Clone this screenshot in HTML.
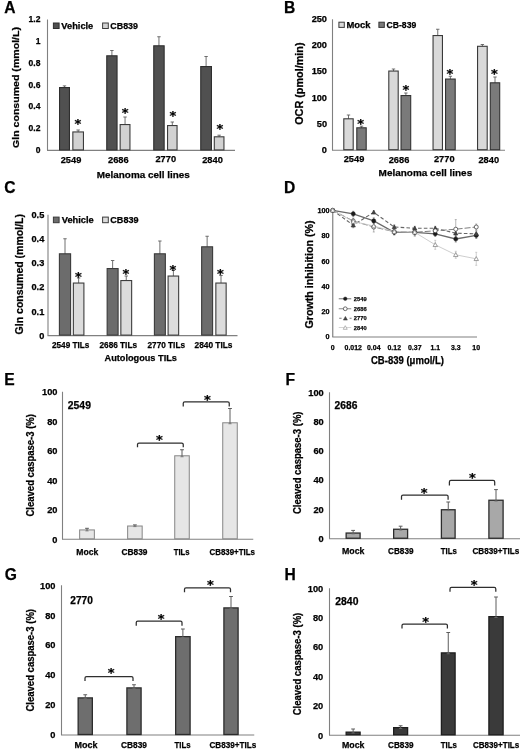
<!DOCTYPE html>
<html lang="en"><head><meta charset="utf-8"><title>Figure</title>
<style>
html,body{margin:0;padding:0;background:#fff;}
body{width:520px;height:752px;overflow:hidden;}
svg{display:block;font-family:"Liberation Sans", Arial, sans-serif;}
text{stroke:#000;stroke-width:0.25px;}
</style></head>
<body>
<svg width="520" height="752" viewBox="0 0 520 752">
<rect x="0" y="0" width="520" height="752" fill="#ffffff"/>
<text x="4.2" y="13.1" font-size="15.6" font-weight="bold" text-anchor="start" fill="#000">A</text>
<text x="283.9" y="13.1" font-size="15.6" font-weight="bold" text-anchor="start" fill="#000">B</text>
<text x="4.3" y="193.4" font-size="15.6" font-weight="bold" text-anchor="start" fill="#000">C</text>
<text x="283.9" y="193.4" font-size="15.6" font-weight="bold" text-anchor="start" fill="#000">D</text>
<text x="4.3" y="384.8" font-size="15.6" font-weight="bold" text-anchor="start" fill="#000">E</text>
<text x="285.5" y="384.8" font-size="15.6" font-weight="bold" text-anchor="start" fill="#000">F</text>
<text x="4.7" y="580.4" font-size="15.6" font-weight="bold" text-anchor="start" fill="#000">G</text>
<text x="284.6" y="579.6" font-size="15.6" font-weight="bold" text-anchor="start" fill="#000">H</text>
<line x1="47.5" y1="19.5" x2="47.5" y2="150.4" stroke="#808080" stroke-width="1.1"/>
<line x1="47.0" y1="150.4" x2="235" y2="150.4" stroke="#808080" stroke-width="1.1"/>
<text x="28.53" y="22.17" font-size="8.8" font-weight="bold" text-anchor="start" fill="#000" textLength="11.87" lengthAdjust="spacingAndGlyphs">1.2</text>
<text x="35.65" y="43.98" font-size="8.8" font-weight="bold" text-anchor="start" fill="#000" textLength="4.75" lengthAdjust="spacingAndGlyphs">1</text>
<text x="28.53" y="65.8" font-size="8.8" font-weight="bold" text-anchor="start" fill="#000" textLength="11.87" lengthAdjust="spacingAndGlyphs">0.8</text>
<text x="28.53" y="87.62" font-size="8.8" font-weight="bold" text-anchor="start" fill="#000" textLength="11.87" lengthAdjust="spacingAndGlyphs">0.6</text>
<text x="28.53" y="109.43" font-size="8.8" font-weight="bold" text-anchor="start" fill="#000" textLength="11.87" lengthAdjust="spacingAndGlyphs">0.4</text>
<text x="28.53" y="131.25" font-size="8.8" font-weight="bold" text-anchor="start" fill="#000" textLength="11.87" lengthAdjust="spacingAndGlyphs">0.2</text>
<text x="35.65" y="153.07" font-size="8.8" font-weight="bold" text-anchor="start" fill="#000" textLength="4.75" lengthAdjust="spacingAndGlyphs">0</text>
<text x="19.3" y="148" font-size="9.7" font-weight="bold" text-anchor="start" fill="#000" textLength="121" lengthAdjust="spacingAndGlyphs" transform="rotate(-90 19.3 148)">Gln consumed (mmol/L)</text>
<line x1="64.5" y1="85.9" x2="64.5" y2="88" stroke="#606060" stroke-width="0.9"/>
<line x1="62.8" y1="85.9" x2="66.2" y2="85.9" stroke="#606060" stroke-width="0.9"/>
<line x1="78.15" y1="130" x2="78.15" y2="132.4" stroke="#606060" stroke-width="0.9"/>
<line x1="76.45" y1="130" x2="79.85000000000001" y2="130" stroke="#606060" stroke-width="0.9"/>
<rect x="59.55" y="87.55" width="9.9" height="62.35" fill="#505050" stroke="#2e2e2e" stroke-width="1.1"/>
<rect x="72.85" y="131.95000000000002" width="10.6" height="17.95" fill="#d2d2d2" stroke="#3c3c3c" stroke-width="1.1"/>
<line x1="111.9" y1="50.5" x2="111.9" y2="56.25" stroke="#606060" stroke-width="0.9"/>
<line x1="110.2" y1="50.5" x2="113.60000000000001" y2="50.5" stroke="#606060" stroke-width="0.9"/>
<line x1="125.05" y1="117" x2="125.05" y2="125" stroke="#606060" stroke-width="0.9"/>
<line x1="123.35" y1="117" x2="126.75" y2="117" stroke="#606060" stroke-width="0.9"/>
<rect x="106.75" y="55.8" width="10.3" height="94.1" fill="#505050" stroke="#2e2e2e" stroke-width="1.1"/>
<rect x="120.14999999999999" y="124.55" width="9.8" height="25.35" fill="#d2d2d2" stroke="#3c3c3c" stroke-width="1.1"/>
<line x1="158.95" y1="36.75" x2="158.95" y2="46.25" stroke="#606060" stroke-width="0.9"/>
<line x1="157.25" y1="36.75" x2="160.64999999999998" y2="36.75" stroke="#606060" stroke-width="0.9"/>
<line x1="172.3" y1="122" x2="172.3" y2="126" stroke="#606060" stroke-width="0.9"/>
<line x1="170.60000000000002" y1="122" x2="174.0" y2="122" stroke="#606060" stroke-width="0.9"/>
<rect x="153.75" y="45.8" width="10.4" height="104.1" fill="#505050" stroke="#2e2e2e" stroke-width="1.1"/>
<rect x="167.55" y="125.55" width="9.5" height="24.35" fill="#d2d2d2" stroke="#3c3c3c" stroke-width="1.1"/>
<line x1="206.1" y1="56.5" x2="206.1" y2="67" stroke="#606060" stroke-width="0.9"/>
<line x1="204.4" y1="56.5" x2="207.79999999999998" y2="56.5" stroke="#606060" stroke-width="0.9"/>
<line x1="219.125" y1="135.2" x2="219.125" y2="137.25" stroke="#606060" stroke-width="0.9"/>
<line x1="217.425" y1="135.2" x2="220.825" y2="135.2" stroke="#606060" stroke-width="0.9"/>
<rect x="200.75" y="66.55" width="10.7" height="83.35" fill="#505050" stroke="#2e2e2e" stroke-width="1.1"/>
<rect x="214.3" y="136.8" width="9.65" height="13.1" fill="#d2d2d2" stroke="#3c3c3c" stroke-width="1.1"/>
<text x="78" y="128.28" font-size="13" font-weight="bold" text-anchor="middle" fill="#000" font-family="DejaVu Sans, Liberation Sans, sans-serif" stroke="#000" stroke-width="0.3">*</text>
<text x="125.2" y="116.78" font-size="13" font-weight="bold" text-anchor="middle" fill="#000" font-family="DejaVu Sans, Liberation Sans, sans-serif" stroke="#000" stroke-width="0.3">*</text>
<text x="172.8" y="119.78" font-size="13" font-weight="bold" text-anchor="middle" fill="#000" font-family="DejaVu Sans, Liberation Sans, sans-serif" stroke="#000" stroke-width="0.3">*</text>
<text x="219.8" y="133.48" font-size="13" font-weight="bold" text-anchor="middle" fill="#000" font-family="DejaVu Sans, Liberation Sans, sans-serif" stroke="#000" stroke-width="0.3">*</text>
<text x="60.7" y="162.5" font-size="9.8" font-weight="bold" text-anchor="start" fill="#000" textLength="20.6" lengthAdjust="spacingAndGlyphs">2549</text>
<text x="108.0" y="163.0" font-size="9.8" font-weight="bold" text-anchor="start" fill="#000" textLength="20.6" lengthAdjust="spacingAndGlyphs">2686</text>
<text x="155.45" y="162.0" font-size="9.8" font-weight="bold" text-anchor="start" fill="#000" textLength="20.6" lengthAdjust="spacingAndGlyphs">2770</text>
<text x="202.2" y="163.2" font-size="9.8" font-weight="bold" text-anchor="start" fill="#000" textLength="20.6" lengthAdjust="spacingAndGlyphs">2840</text>
<text x="96.8" y="177.8" font-size="9.6" font-weight="bold" text-anchor="start" fill="#000" textLength="93.0" lengthAdjust="spacingAndGlyphs">Melanoma cell lines</text>
<rect x="53.4" y="23" width="5.7" height="5.5" fill="#505050" stroke="#2e2e2e" stroke-width="1.0"/>
<text x="61.3" y="28.6" font-size="9" font-weight="bold" text-anchor="start" fill="#000" textLength="32.0" lengthAdjust="spacingAndGlyphs">Vehicle</text>
<rect x="102.6" y="23" width="5.7" height="5.5" fill="#d2d2d2" stroke="#3c3c3c" stroke-width="1.0"/>
<text x="110.3" y="28.6" font-size="9" font-weight="bold" text-anchor="start" fill="#000" textLength="27.7" lengthAdjust="spacingAndGlyphs">CB839</text>
<line x1="48" y1="214.75" x2="48" y2="335.6" stroke="#808080" stroke-width="1.1"/>
<line x1="47.5" y1="335.6" x2="237.5" y2="335.6" stroke="#808080" stroke-width="1.1"/>
<text x="31.51" y="217.85" font-size="8.6" font-weight="bold" text-anchor="start" fill="#000" textLength="12.79" lengthAdjust="spacingAndGlyphs">0.5</text>
<text x="31.51" y="242.02" font-size="8.6" font-weight="bold" text-anchor="start" fill="#000" textLength="12.79" lengthAdjust="spacingAndGlyphs">0.4</text>
<text x="31.51" y="266.19" font-size="8.6" font-weight="bold" text-anchor="start" fill="#000" textLength="12.79" lengthAdjust="spacingAndGlyphs">0.3</text>
<text x="31.51" y="290.36" font-size="8.6" font-weight="bold" text-anchor="start" fill="#000" textLength="12.79" lengthAdjust="spacingAndGlyphs">0.2</text>
<text x="31.51" y="314.53" font-size="8.6" font-weight="bold" text-anchor="start" fill="#000" textLength="12.79" lengthAdjust="spacingAndGlyphs">0.1</text>
<text x="39.18" y="338.7" font-size="8.6" font-weight="bold" text-anchor="start" fill="#000" textLength="5.12" lengthAdjust="spacingAndGlyphs">0</text>
<text x="22.6" y="334.4" font-size="10.4" font-weight="bold" text-anchor="start" fill="#000" textLength="120.4" lengthAdjust="spacingAndGlyphs" transform="rotate(-90 22.6 334.4)">Gln consumed (mmol/L)</text>
<line x1="65.0" y1="238.75" x2="65.0" y2="254.25" stroke="#606060" stroke-width="0.9"/>
<line x1="63.3" y1="238.75" x2="66.7" y2="238.75" stroke="#606060" stroke-width="0.9"/>
<line x1="78.625" y1="278" x2="78.625" y2="283.5" stroke="#606060" stroke-width="0.9"/>
<line x1="76.925" y1="278" x2="80.325" y2="278" stroke="#606060" stroke-width="0.9"/>
<rect x="59.4" y="253.8" width="11.2" height="81.3" fill="#6c6c6c" stroke="#3a3a3a" stroke-width="1.1"/>
<rect x="73.35" y="283.05" width="10.55" height="52.05" fill="#dcdcdc" stroke="#3c3c3c" stroke-width="1.1"/>
<line x1="112.625" y1="260.5" x2="112.625" y2="269" stroke="#606060" stroke-width="0.9"/>
<line x1="110.925" y1="260.5" x2="114.325" y2="260.5" stroke="#606060" stroke-width="0.9"/>
<line x1="126.25" y1="276" x2="126.25" y2="281" stroke="#606060" stroke-width="0.9"/>
<line x1="124.55" y1="276" x2="127.95" y2="276" stroke="#606060" stroke-width="0.9"/>
<rect x="107.14999999999999" y="268.55" width="10.95" height="66.55" fill="#6c6c6c" stroke="#3a3a3a" stroke-width="1.1"/>
<rect x="120.85" y="280.55" width="10.8" height="54.55" fill="#dcdcdc" stroke="#3c3c3c" stroke-width="1.1"/>
<line x1="159.875" y1="241" x2="159.875" y2="254.25" stroke="#606060" stroke-width="0.9"/>
<line x1="158.175" y1="241" x2="161.575" y2="241" stroke="#606060" stroke-width="0.9"/>
<line x1="173.375" y1="270.5" x2="173.375" y2="276.5" stroke="#606060" stroke-width="0.9"/>
<line x1="171.675" y1="270.5" x2="175.075" y2="270.5" stroke="#606060" stroke-width="0.9"/>
<rect x="154.4" y="253.8" width="10.95" height="81.3" fill="#6c6c6c" stroke="#3a3a3a" stroke-width="1.1"/>
<rect x="168.10000000000002" y="276.05" width="10.55" height="59.05" fill="#dcdcdc" stroke="#3c3c3c" stroke-width="1.1"/>
<line x1="207.125" y1="236.25" x2="207.125" y2="247.25" stroke="#606060" stroke-width="0.9"/>
<line x1="205.425" y1="236.25" x2="208.825" y2="236.25" stroke="#606060" stroke-width="0.9"/>
<line x1="221.0" y1="275.5" x2="221.0" y2="283.5" stroke="#606060" stroke-width="0.9"/>
<line x1="219.3" y1="275.5" x2="222.7" y2="275.5" stroke="#606060" stroke-width="0.9"/>
<rect x="201.65" y="246.8" width="10.95" height="88.3" fill="#6c6c6c" stroke="#3a3a3a" stroke-width="1.1"/>
<rect x="215.85000000000002" y="283.05" width="10.3" height="52.05" fill="#dcdcdc" stroke="#3c3c3c" stroke-width="1.1"/>
<text x="78.5" y="280.98" font-size="13" font-weight="bold" text-anchor="middle" fill="#000" font-family="DejaVu Sans, Liberation Sans, sans-serif" stroke="#000" stroke-width="0.3">*</text>
<text x="126" y="278.48" font-size="13" font-weight="bold" text-anchor="middle" fill="#000" font-family="DejaVu Sans, Liberation Sans, sans-serif" stroke="#000" stroke-width="0.3">*</text>
<text x="173" y="273.98" font-size="13" font-weight="bold" text-anchor="middle" fill="#000" font-family="DejaVu Sans, Liberation Sans, sans-serif" stroke="#000" stroke-width="0.3">*</text>
<text x="220.5" y="278.48" font-size="13" font-weight="bold" text-anchor="middle" fill="#000" font-family="DejaVu Sans, Liberation Sans, sans-serif" stroke="#000" stroke-width="0.3">*</text>
<text x="52" y="348.4" font-size="9.2" font-weight="bold" text-anchor="start" fill="#000" textLength="37.25" lengthAdjust="spacingAndGlyphs">2549 TILs</text>
<text x="99.5" y="348.4" font-size="9.2" font-weight="bold" text-anchor="start" fill="#000" textLength="37.5" lengthAdjust="spacingAndGlyphs">2686 TILs</text>
<text x="147.5" y="348.4" font-size="9.2" font-weight="bold" text-anchor="start" fill="#000" textLength="37.5" lengthAdjust="spacingAndGlyphs">2770 TILs</text>
<text x="194.5" y="348.4" font-size="9.2" font-weight="bold" text-anchor="start" fill="#000" textLength="38.0" lengthAdjust="spacingAndGlyphs">2840 TILs</text>
<text x="104.5" y="361.4" font-size="9.5" font-weight="bold" text-anchor="start" fill="#000" textLength="72.4" lengthAdjust="spacingAndGlyphs">Autologous TILs</text>
<rect x="53.4" y="217.1" width="5.7" height="5.6" fill="#6c6c6c" stroke="#3a3a3a" stroke-width="1.0"/>
<text x="61.7" y="222.7" font-size="9" font-weight="bold" text-anchor="start" fill="#000" textLength="32.1" lengthAdjust="spacingAndGlyphs">Vehicle</text>
<rect x="102.6" y="217.1" width="5.7" height="5.6" fill="#dcdcdc" stroke="#3c3c3c" stroke-width="1.0"/>
<text x="110.3" y="222.7" font-size="9" font-weight="bold" text-anchor="start" fill="#000" textLength="28.2" lengthAdjust="spacingAndGlyphs">CB839</text>
<line x1="332.5" y1="19.3" x2="332.5" y2="150.2" stroke="#808080" stroke-width="1.1"/>
<line x1="332.0" y1="150.2" x2="505" y2="150.2" stroke="#808080" stroke-width="1.1"/>
<text x="311.65" y="22.1" font-size="8.6" font-weight="bold" text-anchor="start" fill="#000" textLength="15.35" lengthAdjust="spacingAndGlyphs">250</text>
<text x="311.65" y="48.28" font-size="8.6" font-weight="bold" text-anchor="start" fill="#000" textLength="15.35" lengthAdjust="spacingAndGlyphs">200</text>
<text x="311.65" y="74.46" font-size="8.6" font-weight="bold" text-anchor="start" fill="#000" textLength="15.35" lengthAdjust="spacingAndGlyphs">150</text>
<text x="311.65" y="100.64" font-size="8.6" font-weight="bold" text-anchor="start" fill="#000" textLength="15.35" lengthAdjust="spacingAndGlyphs">100</text>
<text x="316.77" y="126.82" font-size="8.6" font-weight="bold" text-anchor="start" fill="#000" textLength="10.23" lengthAdjust="spacingAndGlyphs">50</text>
<text x="321.88" y="153.0" font-size="8.6" font-weight="bold" text-anchor="start" fill="#000" textLength="5.12" lengthAdjust="spacingAndGlyphs">0</text>
<text x="303.2" y="124.8" font-size="10.6" font-weight="bold" text-anchor="start" fill="#000" textLength="82.3" lengthAdjust="spacingAndGlyphs" transform="rotate(-90 303.2 124.8)">OCR (pmol/min)</text>
<line x1="348.5" y1="115" x2="348.5" y2="119.25" stroke="#606060" stroke-width="0.9"/>
<line x1="346.8" y1="115" x2="350.2" y2="115" stroke="#606060" stroke-width="0.9"/>
<line x1="361.5" y1="126.2" x2="361.5" y2="128.25" stroke="#606060" stroke-width="0.9"/>
<line x1="359.8" y1="126.2" x2="363.2" y2="126.2" stroke="#606060" stroke-width="0.9"/>
<rect x="343.8" y="118.8" width="9.4" height="30.9" fill="#d9d9d9" stroke="#3a3a3a" stroke-width="1.1"/>
<rect x="356.8" y="127.8" width="9.4" height="21.9" fill="#7a7a7a" stroke="#333" stroke-width="1.1"/>
<line x1="393.5" y1="69" x2="393.5" y2="71.5" stroke="#606060" stroke-width="0.9"/>
<line x1="391.8" y1="69" x2="395.2" y2="69" stroke="#606060" stroke-width="0.9"/>
<line x1="405.875" y1="93" x2="405.875" y2="96" stroke="#606060" stroke-width="0.9"/>
<line x1="404.175" y1="93" x2="407.575" y2="93" stroke="#606060" stroke-width="0.9"/>
<rect x="388.8" y="71.05" width="9.4" height="78.65" fill="#d9d9d9" stroke="#3a3a3a" stroke-width="1.1"/>
<rect x="401.05" y="95.55" width="9.65" height="54.15" fill="#7a7a7a" stroke="#333" stroke-width="1.1"/>
<line x1="437.75" y1="29.25" x2="437.75" y2="36" stroke="#606060" stroke-width="0.9"/>
<line x1="436.05" y1="29.25" x2="439.45" y2="29.25" stroke="#606060" stroke-width="0.9"/>
<line x1="450.375" y1="76.25" x2="450.375" y2="79.5" stroke="#606060" stroke-width="0.9"/>
<line x1="448.675" y1="76.25" x2="452.075" y2="76.25" stroke="#606060" stroke-width="0.9"/>
<rect x="433.05" y="35.55" width="9.4" height="114.15" fill="#d9d9d9" stroke="#3a3a3a" stroke-width="1.1"/>
<rect x="445.55" y="79.05" width="9.65" height="70.65" fill="#7a7a7a" stroke="#333" stroke-width="1.1"/>
<line x1="482.375" y1="44.5" x2="482.375" y2="46.75" stroke="#606060" stroke-width="0.9"/>
<line x1="480.675" y1="44.5" x2="484.075" y2="44.5" stroke="#606060" stroke-width="0.9"/>
<line x1="495.0" y1="77" x2="495.0" y2="83.25" stroke="#606060" stroke-width="0.9"/>
<line x1="493.3" y1="77" x2="496.7" y2="77" stroke="#606060" stroke-width="0.9"/>
<rect x="477.55" y="46.3" width="9.65" height="103.4" fill="#d9d9d9" stroke="#3a3a3a" stroke-width="1.1"/>
<rect x="490.3" y="82.8" width="9.4" height="66.9" fill="#7a7a7a" stroke="#333" stroke-width="1.1"/>
<text x="360.6" y="127.98" font-size="13" font-weight="bold" text-anchor="middle" fill="#000" font-family="DejaVu Sans, Liberation Sans, sans-serif" stroke="#000" stroke-width="0.3">*</text>
<text x="405.8" y="93.98" font-size="13" font-weight="bold" text-anchor="middle" fill="#000" font-family="DejaVu Sans, Liberation Sans, sans-serif" stroke="#000" stroke-width="0.3">*</text>
<text x="450" y="77.98" font-size="13" font-weight="bold" text-anchor="middle" fill="#000" font-family="DejaVu Sans, Liberation Sans, sans-serif" stroke="#000" stroke-width="0.3">*</text>
<text x="494.5" y="78.48" font-size="13" font-weight="bold" text-anchor="middle" fill="#000" font-family="DejaVu Sans, Liberation Sans, sans-serif" stroke="#000" stroke-width="0.3">*</text>
<text x="343.7" y="162.0" font-size="9.8" font-weight="bold" text-anchor="start" fill="#000" textLength="20.6" lengthAdjust="spacingAndGlyphs">2549</text>
<text x="388.7" y="162.7" font-size="9.8" font-weight="bold" text-anchor="start" fill="#000" textLength="20.6" lengthAdjust="spacingAndGlyphs">2686</text>
<text x="433.95" y="161.79999999999998" font-size="9.8" font-weight="bold" text-anchor="start" fill="#000" textLength="20.6" lengthAdjust="spacingAndGlyphs">2770</text>
<text x="478.45" y="162.7" font-size="9.8" font-weight="bold" text-anchor="start" fill="#000" textLength="20.6" lengthAdjust="spacingAndGlyphs">2840</text>
<text x="378.6" y="176.1" font-size="9.6" font-weight="bold" text-anchor="start" fill="#000" textLength="93.6" lengthAdjust="spacingAndGlyphs">Melanoma cell lines</text>
<rect x="338.9" y="22.2" width="5.4" height="5.2" fill="#d9d9d9" stroke="#3a3a3a" stroke-width="1.0"/>
<text x="346.5" y="27.6" font-size="9" font-weight="bold" text-anchor="start" fill="#000" textLength="24.1" lengthAdjust="spacingAndGlyphs">Mock</text>
<rect x="378.9" y="22.2" width="5.4" height="5.2" fill="#7a7a7a" stroke="#333" stroke-width="1.0"/>
<text x="386.5" y="27.6" font-size="9" font-weight="bold" text-anchor="start" fill="#000" textLength="29.75" lengthAdjust="spacingAndGlyphs">CB-839</text>
<line x1="332.75" y1="209.5" x2="332.75" y2="337" stroke="#808080" stroke-width="1.2"/>
<line x1="332.25" y1="337" x2="477" y2="337" stroke="#808080" stroke-width="1.2"/>
<text x="317.52" y="212.98" font-size="6.9" font-weight="bold" text-anchor="start" fill="#000" textLength="12.08" lengthAdjust="spacingAndGlyphs">100</text>
<text x="321.54" y="238.28" font-size="6.9" font-weight="bold" text-anchor="start" fill="#000" textLength="8.06" lengthAdjust="spacingAndGlyphs">80</text>
<text x="321.54" y="263.58" font-size="6.9" font-weight="bold" text-anchor="start" fill="#000" textLength="8.06" lengthAdjust="spacingAndGlyphs">60</text>
<text x="321.54" y="288.88" font-size="6.9" font-weight="bold" text-anchor="start" fill="#000" textLength="8.06" lengthAdjust="spacingAndGlyphs">40</text>
<text x="321.54" y="314.18" font-size="6.9" font-weight="bold" text-anchor="start" fill="#000" textLength="8.06" lengthAdjust="spacingAndGlyphs">20</text>
<text x="325.57" y="339.48" font-size="6.9" font-weight="bold" text-anchor="start" fill="#000" textLength="4.03" lengthAdjust="spacingAndGlyphs">0</text>
<text x="312.8" y="328.6" font-size="10.8" font-weight="bold" text-anchor="start" fill="#000" textLength="108.2" lengthAdjust="spacingAndGlyphs" transform="rotate(-90 312.8 328.6)">Growth inhibition (%)</text>
<text x="330.8" y="349.8" font-size="6.9" font-weight="bold" text-anchor="start" fill="#000" textLength="3.9" lengthAdjust="spacingAndGlyphs">0</text>
<text x="344.55" y="349.8" font-size="6.9" font-weight="bold" text-anchor="start" fill="#000" textLength="17.4" lengthAdjust="spacingAndGlyphs">0.012</text>
<text x="367.0" y="349.8" font-size="6.9" font-weight="bold" text-anchor="start" fill="#000" textLength="13.5" lengthAdjust="spacingAndGlyphs">0.04</text>
<text x="387.5" y="349.8" font-size="6.9" font-weight="bold" text-anchor="start" fill="#000" textLength="13.5" lengthAdjust="spacingAndGlyphs">0.12</text>
<text x="408.0" y="349.8" font-size="6.9" font-weight="bold" text-anchor="start" fill="#000" textLength="13.5" lengthAdjust="spacingAndGlyphs">0.37</text>
<text x="430.45" y="349.8" font-size="6.9" font-weight="bold" text-anchor="start" fill="#000" textLength="9.6" lengthAdjust="spacingAndGlyphs">1.1</text>
<text x="450.95" y="349.8" font-size="6.9" font-weight="bold" text-anchor="start" fill="#000" textLength="9.6" lengthAdjust="spacingAndGlyphs">3.3</text>
<text x="472.35" y="349.8" font-size="6.9" font-weight="bold" text-anchor="start" fill="#000" textLength="7.8" lengthAdjust="spacingAndGlyphs">10</text>
<text x="371" y="364" font-size="10" font-weight="bold" text-anchor="start" fill="#000" textLength="73" lengthAdjust="spacingAndGlyphs">CB-839 (μmol/L)</text>
<line x1="353.25" y1="218.5" x2="353.25" y2="224.5" stroke="#b0b0b0" stroke-width="0.6"/>
<line x1="352.25" y1="218.5" x2="354.25" y2="218.5" stroke="#b0b0b0" stroke-width="0.6"/>
<line x1="352.25" y1="224.5" x2="354.25" y2="224.5" stroke="#b0b0b0" stroke-width="0.6"/>
<line x1="373.75" y1="223" x2="373.75" y2="229" stroke="#b0b0b0" stroke-width="0.6"/>
<line x1="372.75" y1="223" x2="374.75" y2="223" stroke="#b0b0b0" stroke-width="0.6"/>
<line x1="372.75" y1="229" x2="374.75" y2="229" stroke="#b0b0b0" stroke-width="0.6"/>
<line x1="394.25" y1="228.7" x2="394.25" y2="234.7" stroke="#b0b0b0" stroke-width="0.6"/>
<line x1="393.25" y1="228.7" x2="395.25" y2="228.7" stroke="#b0b0b0" stroke-width="0.6"/>
<line x1="393.25" y1="234.7" x2="395.25" y2="234.7" stroke="#b0b0b0" stroke-width="0.6"/>
<line x1="414.75" y1="228.3" x2="414.75" y2="236.3" stroke="#b0b0b0" stroke-width="0.6"/>
<line x1="413.75" y1="228.3" x2="415.75" y2="228.3" stroke="#b0b0b0" stroke-width="0.6"/>
<line x1="413.75" y1="236.3" x2="415.75" y2="236.3" stroke="#b0b0b0" stroke-width="0.6"/>
<line x1="435.25" y1="240.3" x2="435.25" y2="249.3" stroke="#b0b0b0" stroke-width="0.6"/>
<line x1="434.25" y1="240.3" x2="436.25" y2="240.3" stroke="#b0b0b0" stroke-width="0.6"/>
<line x1="434.25" y1="249.3" x2="436.25" y2="249.3" stroke="#b0b0b0" stroke-width="0.6"/>
<line x1="455.75" y1="251.3" x2="455.75" y2="258.3" stroke="#b0b0b0" stroke-width="0.6"/>
<line x1="454.75" y1="251.3" x2="456.75" y2="251.3" stroke="#b0b0b0" stroke-width="0.6"/>
<line x1="454.75" y1="258.3" x2="456.75" y2="258.3" stroke="#b0b0b0" stroke-width="0.6"/>
<line x1="476.25" y1="252.3" x2="476.25" y2="265.3" stroke="#b0b0b0" stroke-width="0.6"/>
<line x1="475.25" y1="252.3" x2="477.25" y2="252.3" stroke="#b0b0b0" stroke-width="0.6"/>
<line x1="475.25" y1="265.3" x2="477.25" y2="265.3" stroke="#b0b0b0" stroke-width="0.6"/>
<line x1="353.25" y1="218" x2="353.25" y2="224" stroke="#888" stroke-width="0.6"/>
<line x1="352.25" y1="218" x2="354.25" y2="218" stroke="#888" stroke-width="0.6"/>
<line x1="352.25" y1="224" x2="354.25" y2="224" stroke="#888" stroke-width="0.6"/>
<line x1="373.75" y1="222" x2="373.75" y2="232" stroke="#888" stroke-width="0.6"/>
<line x1="372.75" y1="222" x2="374.75" y2="222" stroke="#888" stroke-width="0.6"/>
<line x1="372.75" y1="232" x2="374.75" y2="232" stroke="#888" stroke-width="0.6"/>
<line x1="394.25" y1="228.7" x2="394.25" y2="234.7" stroke="#888" stroke-width="0.6"/>
<line x1="393.25" y1="228.7" x2="395.25" y2="228.7" stroke="#888" stroke-width="0.6"/>
<line x1="393.25" y1="234.7" x2="395.25" y2="234.7" stroke="#888" stroke-width="0.6"/>
<line x1="414.75" y1="228.8" x2="414.75" y2="235.8" stroke="#888" stroke-width="0.6"/>
<line x1="413.75" y1="228.8" x2="415.75" y2="228.8" stroke="#888" stroke-width="0.6"/>
<line x1="413.75" y1="235.8" x2="415.75" y2="235.8" stroke="#888" stroke-width="0.6"/>
<line x1="435.25" y1="227.8" x2="435.25" y2="233.8" stroke="#888" stroke-width="0.6"/>
<line x1="434.25" y1="227.8" x2="436.25" y2="227.8" stroke="#888" stroke-width="0.6"/>
<line x1="434.25" y1="233.8" x2="436.25" y2="233.8" stroke="#888" stroke-width="0.6"/>
<line x1="455.75" y1="219.6" x2="455.75" y2="238.79999999999998" stroke="#888" stroke-width="0.6"/>
<line x1="454.75" y1="219.6" x2="456.75" y2="219.6" stroke="#888" stroke-width="0.6"/>
<line x1="454.75" y1="238.79999999999998" x2="456.75" y2="238.79999999999998" stroke="#888" stroke-width="0.6"/>
<line x1="476.25" y1="224" x2="476.25" y2="230" stroke="#888" stroke-width="0.6"/>
<line x1="475.25" y1="224" x2="477.25" y2="224" stroke="#888" stroke-width="0.6"/>
<line x1="475.25" y1="230" x2="477.25" y2="230" stroke="#888" stroke-width="0.6"/>
<line x1="353.25" y1="222.7" x2="353.25" y2="227.7" stroke="#666" stroke-width="0.6"/>
<line x1="352.25" y1="222.7" x2="354.25" y2="222.7" stroke="#666" stroke-width="0.6"/>
<line x1="352.25" y1="227.7" x2="354.25" y2="227.7" stroke="#666" stroke-width="0.6"/>
<line x1="373.75" y1="210.8" x2="373.75" y2="213.8" stroke="#666" stroke-width="0.6"/>
<line x1="372.75" y1="210.8" x2="374.75" y2="210.8" stroke="#666" stroke-width="0.6"/>
<line x1="372.75" y1="213.8" x2="374.75" y2="213.8" stroke="#666" stroke-width="0.6"/>
<line x1="394.25" y1="225" x2="394.25" y2="229" stroke="#666" stroke-width="0.6"/>
<line x1="393.25" y1="225" x2="395.25" y2="225" stroke="#666" stroke-width="0.6"/>
<line x1="393.25" y1="229" x2="395.25" y2="229" stroke="#666" stroke-width="0.6"/>
<line x1="414.75" y1="226.3" x2="414.75" y2="230.3" stroke="#666" stroke-width="0.6"/>
<line x1="413.75" y1="226.3" x2="415.75" y2="226.3" stroke="#666" stroke-width="0.6"/>
<line x1="413.75" y1="230.3" x2="415.75" y2="230.3" stroke="#666" stroke-width="0.6"/>
<line x1="435.25" y1="226.3" x2="435.25" y2="230.3" stroke="#666" stroke-width="0.6"/>
<line x1="434.25" y1="226.3" x2="436.25" y2="226.3" stroke="#666" stroke-width="0.6"/>
<line x1="434.25" y1="230.3" x2="436.25" y2="230.3" stroke="#666" stroke-width="0.6"/>
<line x1="455.75" y1="230.2" x2="455.75" y2="236.2" stroke="#666" stroke-width="0.6"/>
<line x1="454.75" y1="230.2" x2="456.75" y2="230.2" stroke="#666" stroke-width="0.6"/>
<line x1="454.75" y1="236.2" x2="456.75" y2="236.2" stroke="#666" stroke-width="0.6"/>
<line x1="476.25" y1="230.8" x2="476.25" y2="236.8" stroke="#666" stroke-width="0.6"/>
<line x1="475.25" y1="230.8" x2="477.25" y2="230.8" stroke="#666" stroke-width="0.6"/>
<line x1="475.25" y1="236.8" x2="477.25" y2="236.8" stroke="#666" stroke-width="0.6"/>
<line x1="353.25" y1="211.3" x2="353.25" y2="216.3" stroke="#555" stroke-width="0.6"/>
<line x1="352.25" y1="211.3" x2="354.25" y2="211.3" stroke="#555" stroke-width="0.6"/>
<line x1="352.25" y1="216.3" x2="354.25" y2="216.3" stroke="#555" stroke-width="0.6"/>
<line x1="373.75" y1="217.9" x2="373.75" y2="223.9" stroke="#555" stroke-width="0.6"/>
<line x1="372.75" y1="217.9" x2="374.75" y2="217.9" stroke="#555" stroke-width="0.6"/>
<line x1="372.75" y1="223.9" x2="374.75" y2="223.9" stroke="#555" stroke-width="0.6"/>
<line x1="394.25" y1="229.8" x2="394.25" y2="234.8" stroke="#555" stroke-width="0.6"/>
<line x1="393.25" y1="229.8" x2="395.25" y2="229.8" stroke="#555" stroke-width="0.6"/>
<line x1="393.25" y1="234.8" x2="395.25" y2="234.8" stroke="#555" stroke-width="0.6"/>
<line x1="414.75" y1="229.8" x2="414.75" y2="234.8" stroke="#555" stroke-width="0.6"/>
<line x1="413.75" y1="229.8" x2="415.75" y2="229.8" stroke="#555" stroke-width="0.6"/>
<line x1="413.75" y1="234.8" x2="415.75" y2="234.8" stroke="#555" stroke-width="0.6"/>
<line x1="435.25" y1="231.3" x2="435.25" y2="236.3" stroke="#555" stroke-width="0.6"/>
<line x1="434.25" y1="231.3" x2="436.25" y2="231.3" stroke="#555" stroke-width="0.6"/>
<line x1="434.25" y1="236.3" x2="436.25" y2="236.3" stroke="#555" stroke-width="0.6"/>
<line x1="455.75" y1="236" x2="455.75" y2="242" stroke="#555" stroke-width="0.6"/>
<line x1="454.75" y1="236" x2="456.75" y2="236" stroke="#555" stroke-width="0.6"/>
<line x1="454.75" y1="242" x2="456.75" y2="242" stroke="#555" stroke-width="0.6"/>
<line x1="476.25" y1="232.4" x2="476.25" y2="238.4" stroke="#555" stroke-width="0.6"/>
<line x1="475.25" y1="232.4" x2="477.25" y2="232.4" stroke="#555" stroke-width="0.6"/>
<line x1="475.25" y1="238.4" x2="477.25" y2="238.4" stroke="#555" stroke-width="0.6"/>
<polyline points="332.75,210.3 353.25,213.8 373.75,220.9 394.25,232.3 414.75,232.3 435.25,233.8 455.75,239 476.25,235.4" fill="none" stroke="#6a6a6a" stroke-width="1.3"/>
<polyline points="332.75,210.3 353.25,221 373.75,227 394.25,231.7 414.75,232.3 435.25,230.8 455.75,229.2 476.25,227" fill="none" stroke="#707070" stroke-width="0.9" stroke-dasharray="6 2"/>
<polyline points="332.75,210.3 353.25,225.2 373.75,212.3 394.25,227 414.75,228.3 435.25,228.3 455.75,233.2 476.25,233.8" fill="none" stroke="#666" stroke-width="1.1" stroke-dasharray="3.6 2.2"/>
<polyline points="332.75,210.3 353.25,221.5 373.75,226 394.25,231.7 414.75,232.3 435.25,244.8 455.75,254.8 476.25,258.8" fill="none" stroke="#c8c8c8" stroke-width="0.9"/>
<circle cx="332.75" cy="210.3" r="2.1" fill="#1a1a1a" stroke="#1a1a1a" stroke-width="0.4"/>
<circle cx="353.25" cy="213.8" r="2.1" fill="#1a1a1a" stroke="#1a1a1a" stroke-width="0.4"/>
<circle cx="373.75" cy="220.9" r="2.1" fill="#1a1a1a" stroke="#1a1a1a" stroke-width="0.4"/>
<circle cx="394.25" cy="232.3" r="2.1" fill="#1a1a1a" stroke="#1a1a1a" stroke-width="0.4"/>
<circle cx="414.75" cy="232.3" r="2.1" fill="#1a1a1a" stroke="#1a1a1a" stroke-width="0.4"/>
<circle cx="435.25" cy="233.8" r="2.1" fill="#1a1a1a" stroke="#1a1a1a" stroke-width="0.4"/>
<circle cx="455.75" cy="239" r="2.1" fill="#1a1a1a" stroke="#1a1a1a" stroke-width="0.4"/>
<circle cx="476.25" cy="235.4" r="2.1" fill="#1a1a1a" stroke="#1a1a1a" stroke-width="0.4"/>
<path d="M332.75 208.10000000000002 L334.95 212.06 L330.55 212.06 Z" fill="#444" stroke="#333" stroke-width="0.5"/>
<path d="M353.25 223.0 L355.45 226.95999999999998 L351.05 226.95999999999998 Z" fill="#444" stroke="#333" stroke-width="0.5"/>
<path d="M373.75 210.10000000000002 L375.95 214.06 L371.55 214.06 Z" fill="#444" stroke="#333" stroke-width="0.5"/>
<path d="M394.25 224.8 L396.45 228.76 L392.05 228.76 Z" fill="#444" stroke="#333" stroke-width="0.5"/>
<path d="M414.75 226.10000000000002 L416.95 230.06 L412.55 230.06 Z" fill="#444" stroke="#333" stroke-width="0.5"/>
<path d="M435.25 226.10000000000002 L437.45 230.06 L433.05 230.06 Z" fill="#444" stroke="#333" stroke-width="0.5"/>
<path d="M455.75 231.0 L457.95 234.95999999999998 L453.55 234.95999999999998 Z" fill="#444" stroke="#333" stroke-width="0.5"/>
<path d="M476.25 231.60000000000002 L478.45 235.56 L474.05 235.56 Z" fill="#444" stroke="#333" stroke-width="0.5"/>
<circle cx="332.75" cy="210.3" r="2.0" fill="#fff" stroke="#333" stroke-width="0.7"/>
<circle cx="353.25" cy="221" r="2.0" fill="#fff" stroke="#333" stroke-width="0.7"/>
<circle cx="373.75" cy="227" r="2.0" fill="#fff" stroke="#333" stroke-width="0.7"/>
<circle cx="394.25" cy="231.7" r="2.0" fill="#fff" stroke="#333" stroke-width="0.7"/>
<circle cx="414.75" cy="232.3" r="2.0" fill="#fff" stroke="#333" stroke-width="0.7"/>
<circle cx="435.25" cy="230.8" r="2.0" fill="#fff" stroke="#333" stroke-width="0.7"/>
<circle cx="455.75" cy="229.2" r="2.0" fill="#fff" stroke="#333" stroke-width="0.7"/>
<circle cx="476.25" cy="227" r="2.0" fill="#fff" stroke="#333" stroke-width="0.7"/>
<path d="M332.75 208.10000000000002 L334.95 212.06 L330.55 212.06 Z" fill="#fff" stroke="#777" stroke-width="0.7"/>
<path d="M353.25 219.3 L355.45 223.26 L351.05 223.26 Z" fill="#fff" stroke="#777" stroke-width="0.7"/>
<path d="M373.75 223.8 L375.95 227.76 L371.55 227.76 Z" fill="#fff" stroke="#777" stroke-width="0.7"/>
<path d="M394.25 229.5 L396.45 233.45999999999998 L392.05 233.45999999999998 Z" fill="#fff" stroke="#777" stroke-width="0.7"/>
<path d="M414.75 230.10000000000002 L416.95 234.06 L412.55 234.06 Z" fill="#fff" stroke="#777" stroke-width="0.7"/>
<path d="M435.25 242.60000000000002 L437.45 246.56 L433.05 246.56 Z" fill="#fff" stroke="#777" stroke-width="0.7"/>
<path d="M455.75 252.60000000000002 L457.95 256.56 L453.55 256.56 Z" fill="#fff" stroke="#777" stroke-width="0.7"/>
<path d="M476.25 256.6 L478.45 260.56 L474.05 260.56 Z" fill="#fff" stroke="#777" stroke-width="0.7"/>
<line x1="338.75" y1="298.75" x2="351.25" y2="298.75" stroke="#808080" stroke-width="1.1"/>
<circle cx="345.25" cy="298.75" r="1.8" fill="#1a1a1a" stroke="#1a1a1a" stroke-width="0.4"/>
<line x1="338.75" y1="308.75" x2="351.25" y2="308.75" stroke="#6a6a6a" stroke-width="0.8"/>
<circle cx="345.25" cy="308.75" r="1.9" fill="#fff" stroke="#333" stroke-width="0.7"/>
<line x1="339.2" y1="318.25" x2="341.6" y2="318.25" stroke="#6a6a6a" stroke-width="0.9"/>
<line x1="349.6" y1="318.25" x2="351.6" y2="318.25" stroke="#6a6a6a" stroke-width="0.9"/>
<path d="M345.4 316.45 L347.4 320.05 L343.4 320.05 Z" fill="#444" stroke="#333" stroke-width="0.5"/>
<line x1="338.75" y1="327.5" x2="351.25" y2="327.5" stroke="#d0d0d0" stroke-width="0.9"/>
<path d="M345.25 325.7 L347.25 329.3 L343.25 329.3 Z" fill="#fff" stroke="#888" stroke-width="0.6"/>
<text x="353.8" y="300.95" font-size="6.2" font-weight="bold" text-anchor="start" fill="#111" textLength="12.8" lengthAdjust="spacingAndGlyphs">2549</text>
<text x="353.8" y="310.95" font-size="6.2" font-weight="bold" text-anchor="start" fill="#111" textLength="12.8" lengthAdjust="spacingAndGlyphs">2686</text>
<text x="353.8" y="320.45" font-size="6.2" font-weight="bold" text-anchor="start" fill="#111" textLength="12.8" lengthAdjust="spacingAndGlyphs">2770</text>
<text x="353.8" y="329.7" font-size="6.2" font-weight="bold" text-anchor="start" fill="#111" textLength="12.8" lengthAdjust="spacingAndGlyphs">2840</text>
<line x1="62.5" y1="391.75" x2="62.5" y2="539.3" stroke="#808080" stroke-width="1.1"/>
<line x1="62.0" y1="539.3" x2="253.25" y2="539.3" stroke="#808080" stroke-width="1.1"/>
<text x="42.0" y="395.06" font-size="9.2" font-weight="bold" text-anchor="start" fill="#000" textLength="15.5" lengthAdjust="spacingAndGlyphs">100</text>
<text x="47.17" y="424.57" font-size="9.2" font-weight="bold" text-anchor="start" fill="#000" textLength="10.33" lengthAdjust="spacingAndGlyphs">80</text>
<text x="47.17" y="454.08" font-size="9.2" font-weight="bold" text-anchor="start" fill="#000" textLength="10.33" lengthAdjust="spacingAndGlyphs">60</text>
<text x="47.17" y="483.59" font-size="9.2" font-weight="bold" text-anchor="start" fill="#000" textLength="10.33" lengthAdjust="spacingAndGlyphs">40</text>
<text x="47.17" y="513.1" font-size="9.2" font-weight="bold" text-anchor="start" fill="#000" textLength="10.33" lengthAdjust="spacingAndGlyphs">20</text>
<text x="52.33" y="542.61" font-size="9.2" font-weight="bold" text-anchor="start" fill="#000" textLength="5.17" lengthAdjust="spacingAndGlyphs">0</text>
<text x="33.6" y="516.5" font-size="10.2" font-weight="bold" text-anchor="start" fill="#000" textLength="102.5" lengthAdjust="spacingAndGlyphs" transform="rotate(-90 33.6 516.5)">Cleaved caspase-3 (%)</text>
<text x="67.85" y="408.5" font-size="10" font-weight="bold" text-anchor="start" fill="#000" textLength="23.05" lengthAdjust="spacingAndGlyphs">2549</text>
<rect x="79.625" y="529.925" width="14.75" height="8.88" fill="#e6e6e6" stroke="#8a8a8a" stroke-width="1.05"/>
<rect x="127.625" y="526.025" width="14.55" height="12.77" fill="#e6e6e6" stroke="#8a8a8a" stroke-width="1.05"/>
<rect x="174.725" y="455.775" width="14.55" height="83.02" fill="#e6e6e6" stroke="#8a8a8a" stroke-width="1.05"/>
<rect x="222.725" y="422.775" width="14.55" height="116.02" fill="#e6e6e6" stroke="#8a8a8a" stroke-width="1.05"/>
<line x1="87.0" y1="528.3" x2="87.0" y2="530.9" stroke="#5c5c5c" stroke-width="1.0"/>
<line x1="85.1" y1="528.3" x2="88.9" y2="528.3" stroke="#5c5c5c" stroke-width="1.0"/>
<line x1="85.4" y1="530.9" x2="88.6" y2="530.9" stroke="#707070" stroke-width="0.8"/>
<line x1="134.89999999999998" y1="524.9" x2="134.89999999999998" y2="526.6" stroke="#5c5c5c" stroke-width="1.0"/>
<line x1="132.99999999999997" y1="524.9" x2="136.79999999999998" y2="524.9" stroke="#5c5c5c" stroke-width="1.0"/>
<line x1="133.29999999999998" y1="526.6" x2="136.49999999999997" y2="526.6" stroke="#707070" stroke-width="0.8"/>
<line x1="182.0" y1="449.75" x2="182.0" y2="456.75" stroke="#5c5c5c" stroke-width="1.0"/>
<line x1="180.1" y1="449.75" x2="183.9" y2="449.75" stroke="#5c5c5c" stroke-width="1.0"/>
<line x1="180.4" y1="456.75" x2="183.6" y2="456.75" stroke="#707070" stroke-width="0.8"/>
<line x1="230.0" y1="408.5" x2="230.0" y2="423.75" stroke="#5c5c5c" stroke-width="1.0"/>
<line x1="228.1" y1="408.5" x2="231.9" y2="408.5" stroke="#5c5c5c" stroke-width="1.0"/>
<line x1="228.4" y1="423.75" x2="231.6" y2="423.75" stroke="#707070" stroke-width="0.8"/>
<text x="76.25" y="554.6" font-size="9" font-weight="bold" text-anchor="start" fill="#000" textLength="22.0" lengthAdjust="spacingAndGlyphs">Mock</text>
<text x="121.5" y="554.6" font-size="9" font-weight="bold" text-anchor="start" fill="#000" textLength="26.0" lengthAdjust="spacingAndGlyphs">CB839</text>
<text x="173.75" y="554.6" font-size="9" font-weight="bold" text-anchor="start" fill="#000" textLength="15.75" lengthAdjust="spacingAndGlyphs">TILs</text>
<text x="209.5" y="554.6" font-size="9" font-weight="bold" text-anchor="start" fill="#000" textLength="45.5" lengthAdjust="spacingAndGlyphs">CB839+TILs</text>
<path d="M137.5 447.25 V444.5 Q137.5 443 139.0 443 H181.75 Q183.25 443 183.25 444.5 V447.25" fill="none" stroke="#2e2e2e" stroke-width="1.25"/>
<path d="M183.25 406.5 V403.25 Q183.25 401.75 184.75 401.75 H227.75 Q229.25 401.75 229.25 403.25 V406.5" fill="none" stroke="#2e2e2e" stroke-width="1.25"/>
<text x="159.5" y="444.48" font-size="13" font-weight="bold" text-anchor="middle" fill="#000" font-family="DejaVu Sans, Liberation Sans, sans-serif" stroke="#000" stroke-width="0.3">*</text>
<text x="207.5" y="403.58" font-size="13" font-weight="bold" text-anchor="middle" fill="#000" font-family="DejaVu Sans, Liberation Sans, sans-serif" stroke="#000" stroke-width="0.3">*</text>
<line x1="329.5" y1="392.25" x2="329.5" y2="538.75" stroke="#808080" stroke-width="1.1"/>
<line x1="329.0" y1="538.75" x2="520" y2="538.75" stroke="#808080" stroke-width="1.1"/>
<text x="308.25" y="395.56" font-size="9.2" font-weight="bold" text-anchor="start" fill="#000" textLength="15.5" lengthAdjust="spacingAndGlyphs">100</text>
<text x="313.42" y="424.86" font-size="9.2" font-weight="bold" text-anchor="start" fill="#000" textLength="10.33" lengthAdjust="spacingAndGlyphs">80</text>
<text x="313.42" y="454.16" font-size="9.2" font-weight="bold" text-anchor="start" fill="#000" textLength="10.33" lengthAdjust="spacingAndGlyphs">60</text>
<text x="313.42" y="483.46" font-size="9.2" font-weight="bold" text-anchor="start" fill="#000" textLength="10.33" lengthAdjust="spacingAndGlyphs">40</text>
<text x="313.42" y="512.76" font-size="9.2" font-weight="bold" text-anchor="start" fill="#000" textLength="10.33" lengthAdjust="spacingAndGlyphs">20</text>
<text x="318.58" y="542.06" font-size="9.2" font-weight="bold" text-anchor="start" fill="#000" textLength="5.17" lengthAdjust="spacingAndGlyphs">0</text>
<text x="301" y="514" font-size="10.2" font-weight="bold" text-anchor="start" fill="#000" textLength="102.5" lengthAdjust="spacingAndGlyphs" transform="rotate(-90 301 514)">Cleaved caspase-3 (%)</text>
<text x="334.6" y="409" font-size="10" font-weight="bold" text-anchor="start" fill="#000" textLength="22.8" lengthAdjust="spacingAndGlyphs">2686</text>
<rect x="346.15" y="533.05" width="13.95" height="5.2" fill="#a8a8a8" stroke="#2c2c2c" stroke-width="1.3"/>
<rect x="393.65" y="529.25" width="13.95" height="9.0" fill="#a8a8a8" stroke="#2c2c2c" stroke-width="1.3"/>
<rect x="441.4" y="509.75" width="13.7" height="28.5" fill="#a8a8a8" stroke="#2c2c2c" stroke-width="1.3"/>
<rect x="488.9" y="500.25" width="14.2" height="38.0" fill="#a8a8a8" stroke="#2c2c2c" stroke-width="1.3"/>
<line x1="353.125" y1="530.4" x2="353.125" y2="533.9" stroke="#5c5c5c" stroke-width="1.0"/>
<line x1="351.225" y1="530.4" x2="355.025" y2="530.4" stroke="#5c5c5c" stroke-width="1.0"/>
<line x1="351.525" y1="533.9" x2="354.725" y2="533.9" stroke="#707070" stroke-width="0.8"/>
<line x1="400.625" y1="526.2" x2="400.625" y2="530.1" stroke="#5c5c5c" stroke-width="1.0"/>
<line x1="398.725" y1="526.2" x2="402.525" y2="526.2" stroke="#5c5c5c" stroke-width="1.0"/>
<line x1="399.025" y1="530.1" x2="402.225" y2="530.1" stroke="#707070" stroke-width="0.8"/>
<line x1="448.25" y1="502" x2="448.25" y2="510.6" stroke="#5c5c5c" stroke-width="1.0"/>
<line x1="446.35" y1="502" x2="450.15" y2="502" stroke="#5c5c5c" stroke-width="1.0"/>
<line x1="446.65" y1="510.6" x2="449.85" y2="510.6" stroke="#707070" stroke-width="0.8"/>
<line x1="496.0" y1="489.6" x2="496.0" y2="501.1" stroke="#5c5c5c" stroke-width="1.0"/>
<line x1="494.1" y1="489.6" x2="497.9" y2="489.6" stroke="#5c5c5c" stroke-width="1.0"/>
<line x1="494.4" y1="501.1" x2="497.6" y2="501.1" stroke="#707070" stroke-width="0.8"/>
<text x="342" y="554.4" font-size="9" font-weight="bold" text-anchor="start" fill="#000" textLength="22.5" lengthAdjust="spacingAndGlyphs">Mock</text>
<text x="388" y="554.4" font-size="9" font-weight="bold" text-anchor="start" fill="#000" textLength="25.5" lengthAdjust="spacingAndGlyphs">CB839</text>
<text x="440.75" y="554.4" font-size="9" font-weight="bold" text-anchor="start" fill="#000" textLength="16.0" lengthAdjust="spacingAndGlyphs">TILs</text>
<text x="472.5" y="554.4" font-size="9" font-weight="bold" text-anchor="start" fill="#000" textLength="46.75" lengthAdjust="spacingAndGlyphs">CB839+TILs</text>
<path d="M401.5 499.7 V496.6 Q401.5 495.1 403.0 495.1 H446.6 Q448.1 495.1 448.1 496.6 V499.7" fill="none" stroke="#2e2e2e" stroke-width="1.25"/>
<path d="M449.4 485.5 V481.9 Q449.4 480.4 450.9 480.4 H493.2 Q494.7 480.4 494.7 481.9 V485.5" fill="none" stroke="#2e2e2e" stroke-width="1.25"/>
<text x="424.25" y="496.78" font-size="13" font-weight="bold" text-anchor="middle" fill="#000" font-family="DejaVu Sans, Liberation Sans, sans-serif" stroke="#000" stroke-width="0.3">*</text>
<text x="472.5" y="482.48" font-size="13" font-weight="bold" text-anchor="middle" fill="#000" font-family="DejaVu Sans, Liberation Sans, sans-serif" stroke="#000" stroke-width="0.3">*</text>
<line x1="61.5" y1="585.25" x2="61.5" y2="735" stroke="#808080" stroke-width="1.1"/>
<line x1="61.0" y1="735" x2="254.25" y2="735" stroke="#808080" stroke-width="1.1"/>
<text x="40.0" y="588.56" font-size="9.2" font-weight="bold" text-anchor="start" fill="#000" textLength="15.5" lengthAdjust="spacingAndGlyphs">100</text>
<text x="45.17" y="618.51" font-size="9.2" font-weight="bold" text-anchor="start" fill="#000" textLength="10.33" lengthAdjust="spacingAndGlyphs">80</text>
<text x="45.17" y="648.46" font-size="9.2" font-weight="bold" text-anchor="start" fill="#000" textLength="10.33" lengthAdjust="spacingAndGlyphs">60</text>
<text x="45.17" y="678.41" font-size="9.2" font-weight="bold" text-anchor="start" fill="#000" textLength="10.33" lengthAdjust="spacingAndGlyphs">40</text>
<text x="45.17" y="708.36" font-size="9.2" font-weight="bold" text-anchor="start" fill="#000" textLength="10.33" lengthAdjust="spacingAndGlyphs">20</text>
<text x="50.33" y="738.31" font-size="9.2" font-weight="bold" text-anchor="start" fill="#000" textLength="5.17" lengthAdjust="spacingAndGlyphs">0</text>
<text x="34" y="711.5" font-size="10.2" font-weight="bold" text-anchor="start" fill="#000" textLength="102.5" lengthAdjust="spacingAndGlyphs" transform="rotate(-90 34 711.5)">Cleaved caspase-3 (%)</text>
<text x="70.35" y="604" font-size="10" font-weight="bold" text-anchor="start" fill="#000" textLength="22.55" lengthAdjust="spacingAndGlyphs">2770</text>
<rect x="78.15" y="697.9" width="14.2" height="36.6" fill="#6e6e6e" stroke="#2c2c2c" stroke-width="1.3"/>
<rect x="126.9" y="687.9" width="14.2" height="46.6" fill="#6e6e6e" stroke="#2c2c2c" stroke-width="1.3"/>
<rect x="175.65" y="636.65" width="14.45" height="97.85" fill="#6e6e6e" stroke="#2c2c2c" stroke-width="1.3"/>
<rect x="223.9" y="607.9" width="14.2" height="126.6" fill="#6e6e6e" stroke="#2c2c2c" stroke-width="1.3"/>
<line x1="85.25" y1="694.75" x2="85.25" y2="698.75" stroke="#5c5c5c" stroke-width="1.0"/>
<line x1="83.35" y1="694.75" x2="87.15" y2="694.75" stroke="#5c5c5c" stroke-width="1.0"/>
<line x1="83.65" y1="698.75" x2="86.85" y2="698.75" stroke="#707070" stroke-width="0.8"/>
<line x1="134.0" y1="684.75" x2="134.0" y2="688.75" stroke="#5c5c5c" stroke-width="1.0"/>
<line x1="132.1" y1="684.75" x2="135.9" y2="684.75" stroke="#5c5c5c" stroke-width="1.0"/>
<line x1="132.4" y1="688.75" x2="135.6" y2="688.75" stroke="#707070" stroke-width="0.8"/>
<line x1="182.875" y1="629" x2="182.875" y2="637.5" stroke="#5c5c5c" stroke-width="1.0"/>
<line x1="180.975" y1="629" x2="184.775" y2="629" stroke="#5c5c5c" stroke-width="1.0"/>
<line x1="181.275" y1="637.5" x2="184.475" y2="637.5" stroke="#707070" stroke-width="0.8"/>
<line x1="231.0" y1="596.5" x2="231.0" y2="608.75" stroke="#5c5c5c" stroke-width="1.0"/>
<line x1="229.1" y1="596.5" x2="232.9" y2="596.5" stroke="#5c5c5c" stroke-width="1.0"/>
<line x1="229.4" y1="608.75" x2="232.6" y2="608.75" stroke="#707070" stroke-width="0.8"/>
<text x="74.5" y="748.1" font-size="9" font-weight="bold" text-anchor="start" fill="#000" textLength="23.0" lengthAdjust="spacingAndGlyphs">Mock</text>
<text x="121" y="748.1" font-size="9" font-weight="bold" text-anchor="start" fill="#000" textLength="26" lengthAdjust="spacingAndGlyphs">CB839</text>
<text x="174.5" y="748.1" font-size="9" font-weight="bold" text-anchor="start" fill="#000" textLength="16.0" lengthAdjust="spacingAndGlyphs">TILs</text>
<text x="209.5" y="748.1" font-size="9" font-weight="bold" text-anchor="start" fill="#000" textLength="46.75" lengthAdjust="spacingAndGlyphs">CB839+TILs</text>
<path d="M85 681 V678.0 Q85 676.5 86.5 676.5 H131.5 Q133 676.5 133 678.0 V681" fill="none" stroke="#2e2e2e" stroke-width="1.25"/>
<path d="M136.25 625.75 V622.5 Q136.25 621 137.75 621 H180.5 Q182 621 182 622.5 V625.75" fill="none" stroke="#2e2e2e" stroke-width="1.25"/>
<path d="M184.5 592.25 V589.25 Q184.5 587.75 186.0 587.75 H229.0 Q230.5 587.75 230.5 589.25 V592.25" fill="none" stroke="#2e2e2e" stroke-width="1.25"/>
<text x="111.25" y="677.48" font-size="13" font-weight="bold" text-anchor="middle" fill="#000" font-family="DejaVu Sans, Liberation Sans, sans-serif" stroke="#000" stroke-width="0.3">*</text>
<text x="161.25" y="623.18" font-size="13" font-weight="bold" text-anchor="middle" fill="#000" font-family="DejaVu Sans, Liberation Sans, sans-serif" stroke="#000" stroke-width="0.3">*</text>
<text x="210.3" y="589.48" font-size="13" font-weight="bold" text-anchor="middle" fill="#000" font-family="DejaVu Sans, Liberation Sans, sans-serif" stroke="#000" stroke-width="0.3">*</text>
<line x1="329.5" y1="588.25" x2="329.5" y2="735.25" stroke="#808080" stroke-width="1.1"/>
<line x1="329.0" y1="735.25" x2="520" y2="735.25" stroke="#808080" stroke-width="1.1"/>
<text x="307.75" y="591.56" font-size="9.2" font-weight="bold" text-anchor="start" fill="#000" textLength="15.5" lengthAdjust="spacingAndGlyphs">100</text>
<text x="312.92" y="620.96" font-size="9.2" font-weight="bold" text-anchor="start" fill="#000" textLength="10.33" lengthAdjust="spacingAndGlyphs">80</text>
<text x="312.92" y="650.36" font-size="9.2" font-weight="bold" text-anchor="start" fill="#000" textLength="10.33" lengthAdjust="spacingAndGlyphs">60</text>
<text x="312.92" y="679.76" font-size="9.2" font-weight="bold" text-anchor="start" fill="#000" textLength="10.33" lengthAdjust="spacingAndGlyphs">40</text>
<text x="312.92" y="709.16" font-size="9.2" font-weight="bold" text-anchor="start" fill="#000" textLength="10.33" lengthAdjust="spacingAndGlyphs">20</text>
<text x="318.08" y="738.56" font-size="9.2" font-weight="bold" text-anchor="start" fill="#000" textLength="5.17" lengthAdjust="spacingAndGlyphs">0</text>
<text x="301" y="715.25" font-size="10.2" font-weight="bold" text-anchor="start" fill="#000" textLength="102.5" lengthAdjust="spacingAndGlyphs" transform="rotate(-90 301 715.25)">Cleaved caspase-3 (%)</text>
<text x="335.35" y="605.25" font-size="10" font-weight="bold" text-anchor="start" fill="#000" textLength="23.05" lengthAdjust="spacingAndGlyphs">2840</text>
<rect x="346.15" y="732.15" width="13.95" height="2.6" fill="#3a3a3a" stroke="#1e1e1e" stroke-width="1.3"/>
<rect x="393.65" y="727.65" width="13.95" height="7.1" fill="#3a3a3a" stroke="#1e1e1e" stroke-width="1.3"/>
<rect x="441.4" y="652.9" width="13.7" height="81.85" fill="#3a3a3a" stroke="#1e1e1e" stroke-width="1.3"/>
<rect x="488.9" y="616.65" width="14.2" height="118.1" fill="#3a3a3a" stroke="#1e1e1e" stroke-width="1.3"/>
<line x1="353.125" y1="729" x2="353.125" y2="733.0" stroke="#5c5c5c" stroke-width="1.0"/>
<line x1="351.225" y1="729" x2="355.025" y2="729" stroke="#5c5c5c" stroke-width="1.0"/>
<line x1="351.525" y1="733.0" x2="354.725" y2="733.0" stroke="#707070" stroke-width="0.8"/>
<line x1="400.625" y1="725.75" x2="400.625" y2="728.5" stroke="#5c5c5c" stroke-width="1.0"/>
<line x1="398.725" y1="725.75" x2="402.525" y2="725.75" stroke="#5c5c5c" stroke-width="1.0"/>
<line x1="399.025" y1="728.5" x2="402.225" y2="728.5" stroke="#707070" stroke-width="0.8"/>
<line x1="448.25" y1="632.5" x2="448.25" y2="653.75" stroke="#5c5c5c" stroke-width="1.0"/>
<line x1="446.35" y1="632.5" x2="450.15" y2="632.5" stroke="#5c5c5c" stroke-width="1.0"/>
<line x1="446.65" y1="653.75" x2="449.85" y2="653.75" stroke="#707070" stroke-width="0.8"/>
<line x1="496.0" y1="597" x2="496.0" y2="617.5" stroke="#5c5c5c" stroke-width="1.0"/>
<line x1="494.1" y1="597" x2="497.9" y2="597" stroke="#5c5c5c" stroke-width="1.0"/>
<line x1="494.4" y1="617.5" x2="497.6" y2="617.5" stroke="#707070" stroke-width="0.8"/>
<text x="342" y="748.1" font-size="9" font-weight="bold" text-anchor="start" fill="#000" textLength="22.5" lengthAdjust="spacingAndGlyphs">Mock</text>
<text x="388" y="748.1" font-size="9" font-weight="bold" text-anchor="start" fill="#000" textLength="25.5" lengthAdjust="spacingAndGlyphs">CB839</text>
<text x="440.75" y="748.1" font-size="9" font-weight="bold" text-anchor="start" fill="#000" textLength="16.0" lengthAdjust="spacingAndGlyphs">TILs</text>
<text x="473" y="748.1" font-size="9" font-weight="bold" text-anchor="start" fill="#000" textLength="46.25" lengthAdjust="spacingAndGlyphs">CB839+TILs</text>
<path d="M402 628.6 V625.5 Q402 624 403.5 624 H445.9 Q447.4 624 447.4 625.5 V628.6" fill="none" stroke="#2e2e2e" stroke-width="1.25"/>
<path d="M450 591.7 V588.9 Q450 587.4 451.5 587.4 H494.3 Q495.8 587.4 495.8 588.9 V591.7" fill="none" stroke="#2e2e2e" stroke-width="1.25"/>
<text x="425.75" y="625.78" font-size="13" font-weight="bold" text-anchor="middle" fill="#000" font-family="DejaVu Sans, Liberation Sans, sans-serif" stroke="#000" stroke-width="0.3">*</text>
<text x="474.2" y="588.78" font-size="13" font-weight="bold" text-anchor="middle" fill="#000" font-family="DejaVu Sans, Liberation Sans, sans-serif" stroke="#000" stroke-width="0.3">*</text>
</svg>
</body></html>
